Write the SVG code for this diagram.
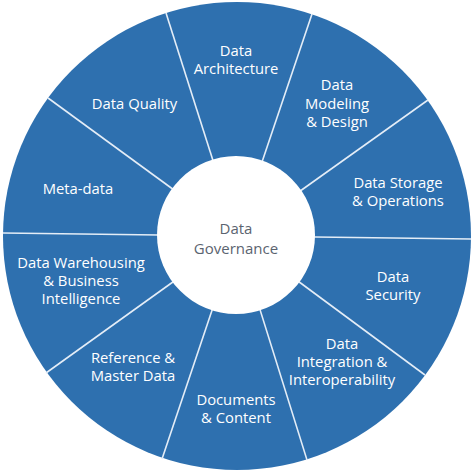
<svg xmlns="http://www.w3.org/2000/svg" width="474" height="474" viewBox="0 0 474 474">
<style>
.seg{fill:#2E70AF}
.div{stroke:#E4EDF7;stroke-width:1.6;fill:none}
.lbl{font-family:"Open Sans","Noto Sans","Liberation Sans",sans-serif;font-size:14.8px;fill:#FFFFFF;text-anchor:middle}
.ctr{font-family:"Open Sans","Noto Sans","Liberation Sans",sans-serif;font-size:15px;fill:#5B6470;text-anchor:middle}
</style>
<rect width="474" height="474" fill="#FFFFFF"/>
<circle class="seg" cx="237" cy="236" r="234"/>
<g id="connectors">
<line class="div" x1="237" y1="236" x2="166" y2="13"/>
<line class="div" x1="237" y1="236" x2="312" y2="14"/>
<line class="div" x1="237" y1="236" x2="48" y2="98"/>
<line class="div" x1="237" y1="236" x2="428" y2="100"/>
<line class="div" x1="237" y1="236" x2="3" y2="233"/>
<line class="div" x1="237" y1="236" x2="471" y2="239"/>
<line class="div" x1="237" y1="236" x2="46" y2="373"/>
<line class="div" x1="237" y1="236" x2="425" y2="375"/>
<line class="div" x1="237" y1="236" x2="162" y2="459"/>
<line class="div" x1="237" y1="236" x2="307" y2="460"/>
</g>
<g id="center">
<circle cx="236" cy="235" r="79" fill="#FFFFFF"/>
<text class="ctr" x="236" y="234">Data<tspan x="236" y="254">Governance</tspan></text>
</g>
<g id="architecture"><text class="lbl" x="236" y="56">Data<tspan x="236" y="74">Architecture</tspan></text></g>
<g id="modeling"><text class="lbl" x="337" y="90">Data<tspan x="337" y="108.5">Modeling</tspan><tspan x="337" y="127">&amp; Design</tspan></text></g>
<g id="storage"><text class="lbl" x="398" y="188">Data Storage<tspan x="398" y="206">&amp; Operations</tspan></text></g>
<g id="security"><text class="lbl" x="393" y="282">Data<tspan x="393" y="300">Security</tspan></text></g>
<g id="integration"><text class="lbl" x="342" y="349">Data<tspan x="342" y="367">Integration &amp;</tspan><tspan x="342" y="385">Interoperability</tspan></text></g>
<g id="documents"><text class="lbl" x="236" y="405">Documents<tspan x="236" y="422.5">&amp; Content</tspan></text></g>
<g id="reference"><text class="lbl" x="133" y="363">Reference &amp;<tspan x="133" y="381">Master Data</tspan></text></g>
<g id="warehousing"><text class="lbl" x="81" y="268">Data Warehousing<tspan x="81" y="286">&amp; Business</tspan><tspan x="81" y="304">Intelligence</tspan></text></g>
<g id="metadata"><text class="lbl" x="78" y="194">Meta-data</text></g>
<g id="quality"><text class="lbl" x="134.5" y="109">Data Quality</text></g>
</svg>
